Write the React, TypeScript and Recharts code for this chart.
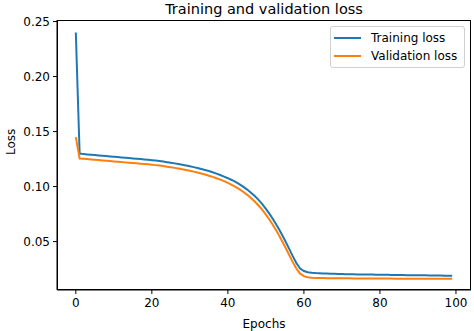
import { LineChart, Line, XAxis, YAxis } from 'recharts'

const epochs = Array.from({ length: 100 }, (_, i) => i)

const trainingLoss = [
  0.24, 0.13, 0.1295, 0.1292, 0.1289, 0.1286, 0.1283, 0.128, 0.1277, 0.1274,
  0.1271, 0.1268, 0.1265, 0.1262, 0.1259, 0.1256, 0.1253, 0.125, 0.1247, 0.1244,
  0.124, 0.1236, 0.1232, 0.1227, 0.1222, 0.1217, 0.1211, 0.1205, 0.1199, 0.1192,
  0.1185, 0.1177, 0.1169, 0.116, 0.1151, 0.1141, 0.113, 0.1118, 0.1105, 0.1091,
  0.1076, 0.106, 0.1042, 0.1022, 0.1, 0.0975, 0.0947, 0.0916, 0.0881, 0.0842,
  0.0798, 0.075, 0.0697, 0.064, 0.0578, 0.0512, 0.0443, 0.0372, 0.0305, 0.0255,
  0.0232, 0.0222, 0.0217, 0.0214, 0.0212, 0.021, 0.0209, 0.0208, 0.0207, 0.0206,
  0.0205, 0.0204, 0.0204, 0.0203, 0.0202, 0.0202, 0.0201, 0.02, 0.02, 0.0199,
  0.0199, 0.0198, 0.0198, 0.0197, 0.0197, 0.0196, 0.0196, 0.0195, 0.0195, 0.0194,
  0.0194, 0.0193, 0.0193, 0.0192, 0.0192, 0.0191, 0.0191, 0.019, 0.019, 0.0189,
]

const validationLoss = [
  0.145, 0.1255, 0.1253, 0.125, 0.1247, 0.1244, 0.1241, 0.1238, 0.1235, 0.1232,
  0.1229, 0.1226, 0.1223, 0.122, 0.1217, 0.1214, 0.1211, 0.1208, 0.1205, 0.1202,
  0.1199, 0.1195, 0.1191, 0.1186, 0.1181, 0.1176, 0.117, 0.1164, 0.1158, 0.1151,
  0.1144, 0.1136, 0.1128, 0.1119, 0.1109, 0.1099, 0.1088, 0.1076, 0.1063, 0.1049,
  0.1033, 0.1016, 0.0997, 0.0976, 0.0953, 0.0927, 0.0898, 0.0866, 0.083, 0.079,
  0.0745, 0.0696, 0.0642, 0.0584, 0.0521, 0.0455, 0.0387, 0.0318, 0.0255, 0.0208,
  0.0186, 0.0176, 0.0171, 0.0169, 0.0168, 0.0168, 0.0167, 0.0167, 0.0167, 0.0166,
  0.0166, 0.0166, 0.0166, 0.0165, 0.0165, 0.0165, 0.0165, 0.0165, 0.0164, 0.0164,
  0.0164, 0.0164, 0.0164, 0.0164, 0.0163, 0.0163, 0.0163, 0.0163, 0.0163, 0.0163,
  0.0163, 0.0162, 0.0162, 0.0162, 0.0162, 0.0162, 0.0162, 0.0162, 0.0162, 0.0162,
]

const xTicks = [0, 20, 40, 60, 80, 100]
const yTicks = [0.05, 0.1, 0.15, 0.2, 0.25]

const data = epochs.map((e, i) => ({
  epoch: e,
  train: trainingLoss[i],
  val: validationLoss[i],
}))

const FONT = "'DejaVu Sans', sans-serif"
const tickStyle = { fill: '#000', fontSize: 12, fontFamily: FONT }

const legendItems = [
  { label: 'Training loss', color: '#1f77b4' },
  { label: 'Validation loss', color: '#ff7f0e' },
]

// plot box: matches chart margins + axis sizes below
const PLOT = { left: 57, top: 20, width: 414, height: 270 }

export default function App() {
  return (
    <div style={{ position: 'absolute', left: 0, top: 0, width: 474, height: 331, background: '#fff' }}>
      <div
        style={{
          position: 'absolute',
          left: PLOT.left,
          width: PLOT.width,
          top: 0,
          textAlign: 'center',
          fontFamily: FONT,
          fontSize: 14.5,
          lineHeight: '18px',
          color: '#000',
        }}
      >
        Training and validation loss
      </div>
      <LineChart width={474} height={331} data={data} margin={{ top: 20, right: 3, bottom: 1, left: 7 }}>
        <XAxis
          dataKey="epoch"
          type="number"
          domain={[-4.95, 103.95]}
          ticks={xTicks}
          tick={tickStyle}
          tickSize={4}
          tickMargin={4}
          height={40}
          stroke="#000"
          allowDataOverflow
          label={{ value: 'Epochs', position: 'insideBottom', offset: 2, fill: '#000', fontSize: 12, fontFamily: FONT }}
        />
        <YAxis
          type="number"
          domain={[0.006, 0.2514]}
          ticks={yTicks}
          tick={tickStyle}
          tickSize={4}
          tickMargin={3}
          width={50}
          stroke="#000"
          allowDataOverflow
          tickFormatter={(v: number) => v.toFixed(2)}
          label={{ value: 'Loss', angle: -90, position: 'insideLeft', offset: 4, fill: '#000', fontSize: 12, fontFamily: FONT }}
        />
        <Line dataKey="train" stroke="#1f77b4" strokeWidth={2} dot={false} isAnimationActive={false} />
        <Line dataKey="val" stroke="#ff7f0e" strokeWidth={2} dot={false} isAnimationActive={false} />
      </LineChart>
      <div
        style={{
          position: 'absolute',
          left: PLOT.left,
          top: PLOT.top,
          width: PLOT.width,
          height: PLOT.height,
          border: '1px solid #000',
          boxSizing: 'border-box',
          pointerEvents: 'none',
        }}
      />
      <div
        style={{
          position: 'absolute',
          left: 330,
          top: 26,
          width: 135,
          boxSizing: 'border-box',
          border: '1px solid #d0d0d0',
          borderRadius: 3,
          background: '#fff',
          padding: '2px 0 2px 3px',
          fontFamily: FONT,
          fontSize: 12,
          color: '#000',
        }}
      >
        {legendItems.map((it) => (
          <div key={it.label} style={{ display: 'flex', alignItems: 'center', height: 18 }}>
            <span style={{ display: 'inline-block', width: 27, height: 2, background: it.color, marginRight: 10 }} />
            {it.label}
          </div>
        ))}
      </div>
    </div>
  )
}
